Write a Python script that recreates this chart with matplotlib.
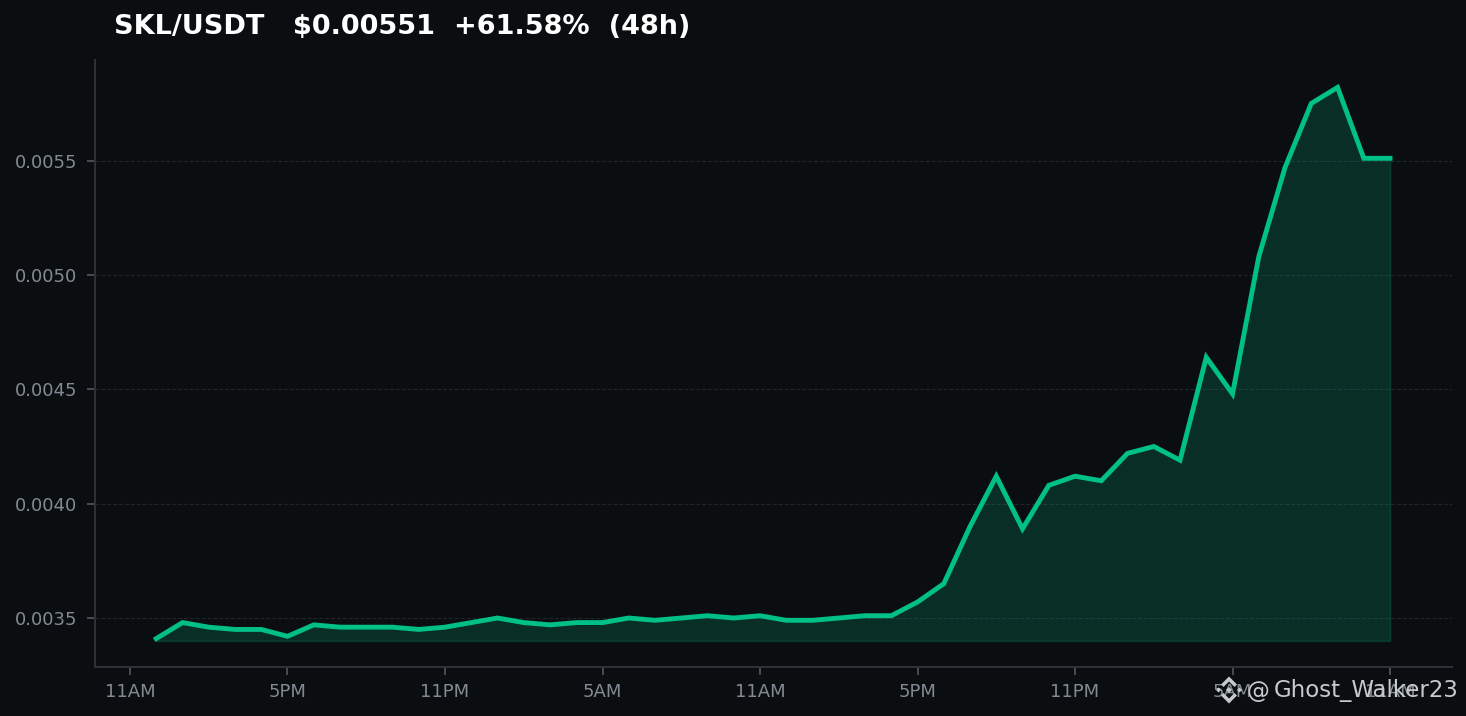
import numpy as np
import matplotlib
matplotlib.use("Agg")
import matplotlib.pyplot as plt
from matplotlib.patches import Polygon

BG="#0b0e11"; GREEN="#00c087"; GRID="#20252a"; SPINE="#2e3238"; TICK="#848a94"; WM="#c6c9cd"

hours=list(range(1,49))
price=[0.00341,0.00348,0.00346,0.00345,0.00345,0.00342,0.00347,0.00346,0.00346,0.00346,
       0.00345,0.00346,0.00348,0.00350,0.00348,0.00347,0.00348,0.00348,0.00350,0.00349,
       0.00350,0.00351,0.00350,0.00351,0.00349,0.00349,0.00350,0.00351,0.00351,0.00357,
       0.00365,0.00390,0.00412,0.00389,0.00408,0.00412,0.00410,0.00422,0.00425,0.00419,
       0.00464,0.00448,0.00508,0.00547,0.00575,0.00582,0.00551,0.00551]
base=0.0034
xticks=[0,6,12,18,24,30,36,42,48]
xlabels=["11AM","5PM","11PM","5AM","11AM","5PM","11PM","5AM","11AM"]
yticks=[0.0035,0.0040,0.0045,0.0050,0.0055]
title="SKL/USDT   $0.00551  +61.58%  (48h)"

W,H=1466,716
fig=plt.figure(figsize=(W/100,H/100),dpi=100,facecolor=BG)
ax=fig.add_axes([95/W,1-666.5/H,(1452-95)/W,607/H],facecolor=BG)

ax.fill_between(hours,price,base,color=GREEN,alpha=0.18,lw=1.2,zorder=2)
ax.plot(hours,price,color=GREEN,lw=3.5,solid_joinstyle="miter",solid_capstyle="projecting",zorder=3)

ax.set_xlim(-1.333,50.36)
ax.set_ylim(0.003288,0.005942)
ax.set_xticks(xticks); ax.set_xticklabels(xlabels)
ax.set_yticks(yticks); ax.set_yticklabels([f"{v:.4f}" for v in yticks])
ax.tick_params(labelcolor=TICK,labelsize=13,length=6,width=1.2,color="#54585e")
ax.tick_params(axis="x",pad=6)
ax.tick_params(axis="y",pad=7)
ax.grid(axis="y",color=GRID,ls="--",lw=0.8,zorder=0)
ax.set_axisbelow(True)
for s in ["top","right"]:
    ax.spines[s].set_visible(False)
for s in ["left","bottom"]:
    ax.spines[s].set_color(SPINE); ax.spines[s].set_linewidth(1.4)

fig.text(114/W,1-27/H,title,color="white",fontsize=19.5,fontweight="bold",va="center",ha="left")

# watermark over the last tick labels
fig.text(1459/W,1-691/H,"Ghost_Walker23",color=WM,fontsize=16.5,va="center",ha="right")
fig.text(1247/W,1-691/H,"@",color=WM,fontsize=16.5,va="center",ha="left")

# exchange logo, in pixels from the diamond centre
cx,cy=1229,690
def px(pts):
    return [((cx+a)/W,1-(cy+b)/H) for a,b in pts]
logo=[[(0,-13.5),(8,-5.5),(5.5,-3),(0,-8.5),(-5.5,-3),(-8,-5.5)],
      [(0,13.5),(8,5.5),(5.5,3),(0,8.5),(-5.5,3),(-8,5.5)],
      [(0,-3),(3,0),(0,3),(-3,0)],
      [(-10.5,-2.5),(-8,0),(-10.5,2.5),(-13,0)],
      [(10.5,-2.5),(13,0),(10.5,2.5),(8,0)]]
for pts in logo:
    fig.add_artist(Polygon(px(pts),closed=True,fc=WM,ec="none",transform=fig.transFigure))

fig.savefig("out.png",dpi=100,facecolor=BG)
